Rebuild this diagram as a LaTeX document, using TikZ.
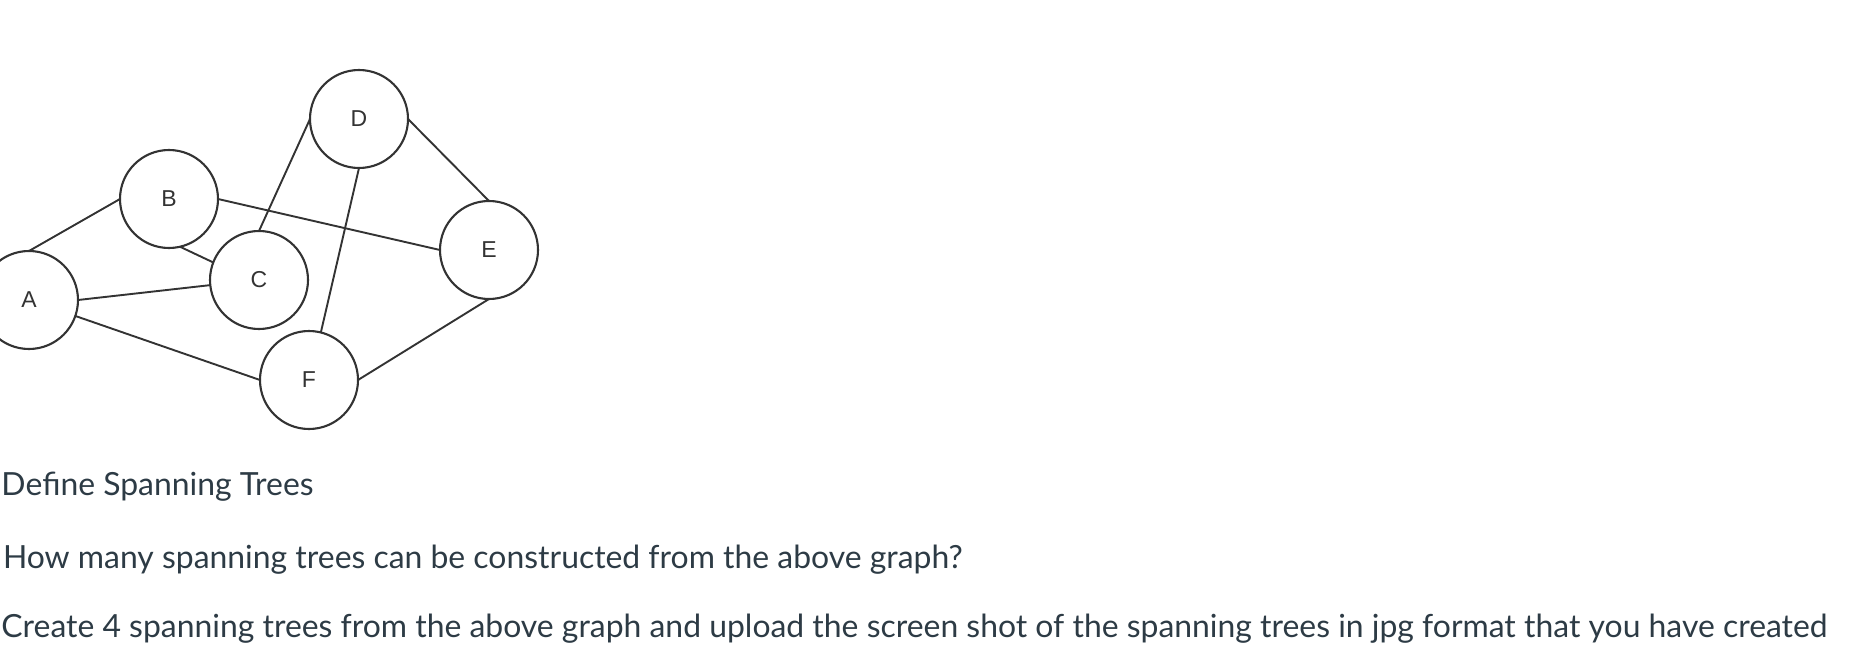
\documentclass[tikz,border=0pt]{standalone}
\usepackage{fontspec}
\setmainfont{Lato}
\newfontfamily\labelfont{Liberation Sans}
\definecolor{txt}{HTML}{2D3B45}
\definecolor{ink}{HTML}{333333}
\begin{document}
\begin{tikzpicture}[x=1pt,y=-1pt,
  vert/.style={circle,draw=ink,line width=2.1pt,minimum size=98pt,inner sep=0pt,outer sep=0pt,
    font=\labelfont\fontsize{23}{23}\selectfont,text=ink},
  edge/.style={draw=ink,line width=1.9pt},
  para/.style={anchor=base west,inner sep=0pt,outer sep=0pt,text=txt,font=\fontsize{31.9}{38}\selectfont}]
\useasboundingbox (0,0) rectangle (1860,663);
\node[vert] (A) at (29,300) {A};
\node[vert] (B) at (169,199) {B};
\node[vert] (C) at (259,280) {C};
\node[vert] (D) at (359,119) {D};
\node[vert] (E) at (489,250) {E};
\node[vert] (F) at (309,380) {F};
\draw[edge] (A.north) -- (B.west);
\draw[edge] (A.east) -- (C.186);
\draw[edge] (A.-19) -- (F.west);
\draw[edge] (B.-77) -- (C.159);
\draw[edge] (B.east) -- (E.west);
\draw[edge] (C.north) -- (D.west);
\draw[edge] (D.south) -- (F.76);
\draw[edge] (D.east) -- (E.north);
\draw[edge] (E.south) -- (F.east);
\node[para] (t1) at (1.5,495) {Define Spanning Trees};
\node[para] (t2) at (3,568) {How many spanning trees can be constructed from the above graph?};
\node[para] (t3) at (1.5,637) {Create 4 spanning trees from the above graph and upload the screen shot of the spanning trees in jpg format that you have created};
\end{tikzpicture}
\end{document}
